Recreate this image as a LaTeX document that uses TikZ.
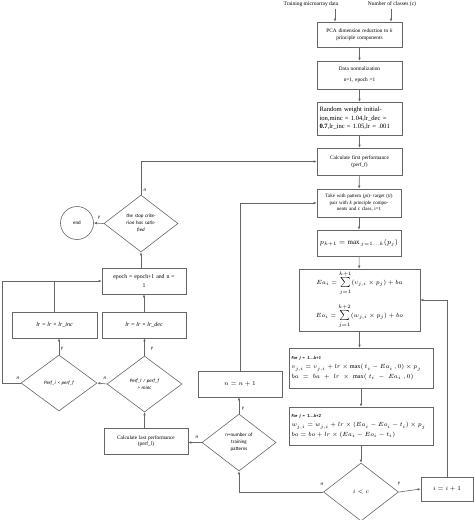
\documentclass[tikz,border=0pt]{standalone}
\usepackage{fontspec}
\setmainfont{Liberation Serif}
\newfontfamily\calib{Carlito}
\usetikzlibrary{shapes.geometric,arrows.meta}
\definecolor{lc}{HTML}{666666}
\begin{document}
\begin{tikzpicture}[x=1pt,y=-1pt,
  box/.style={draw=lc, line width=0.6pt, inner sep=1pt, align=center, fill=white,
    font=\fontsize{5.3}{6.6}\selectfont},
  dia/.style={draw=lc, line width=0.6pt, diamond, inner sep=0pt, align=center,
    font=\calib\itshape\fontsize{5}{7}\selectfont},
  arr/.style={draw=lc, line width=0.6pt, -{Latex[length=3pt,width=2.6pt]}},
  ln/.style={draw=lc, line width=0.6pt},
  lab/.style={font=\calib\itshape\fontsize{5}{6}\selectfont, inner sep=0.5pt},
  toptxt/.style={font=\fontsize{5.5}{6.5}\selectfont, inner sep=0pt}
]
\useasboundingbox (0,0) rectangle (474,520);

% top inputs
\node[toptxt] (train) at (311,4) {Training microarray data};
\node[toptxt] (ncls) at (392,4) {Number of classes (\textit{c})};
\coordinate (t1) at (335,9);
\coordinate (t2) at (391,9);

% right column
\node[box, minimum width=85, minimum height=25, text width=80] (pca) at (359.5,34.5)
  {PCA dimension reduction to \textit{k}\\principle components};
\node[box, minimum width=85, minimum height=28, text width=80] (norm) at (359.5,75)
  {Data normalization\\[4pt]n=1, epoch =1};
\node[box, minimum width=85, minimum height=33, text width=80, align=left,
  font=\fontsize{6.6}{8.3}\selectfont] (rand) at (359.5,118.5)
  {Random weight initial-\\ion,minc = 1.04,lr\_dec =\\\textbf{0.7},lr\_inc = 1.05,lr = .001};
\node[box, minimum width=85, minimum height=27, text width=80] (first) at (359.5,161.5)
  {Calculate first performance\\(perf\_f)};
\node[box, minimum width=84, minimum height=28, text width=80,
  font=\fontsize{5}{6.6}\selectfont] (take) at (359,203)
  {Take with pattern (\textit{pi})- target (\textit{ti})\\pair with \textit{k} principle compo-\\nents and c class, i=1};
\node[box, minimum width=84, minimum height=26, font=\fontsize{7}{8}\selectfont] (pmax) at (359,243)
  {$p_{k+1}=\mathrm{max}_{\,j=1\ldots k}(p_j)$};
\node[box, minimum width=121, minimum height=62, font=\fontsize{6.5}{7}\selectfont] (sums) at (359.5,300)
  {$Ea_i=\sum\limits_{j=1}^{k+1}(v_{j,i}\times p_j)+ba$\\[8pt]
   $Eo_i=\sum\limits_{j=1}^{k+2}(w_{j,i}\times p_j)+bo$};
\node[box, minimum width=144, minimum height=40, text width=139, align=left,
  font=\fontsize{6.2}{9.5}\selectfont] (vupd) at (361,368)
  {{\calib\bfseries\itshape\fontsize{4.5}{5}\selectfont For j = 1....k+1}\\
   $v_{j,i}=v_{j,i}+lr\times\mathrm{max}(\,t_i-Ea_i\,,0)\times p_j$\\
   $ba\;=\;ba\;+\;lr\;\times\;\mathrm{max}(\;t_i\;-\;Ea_i\;,0)$};
\node[box, minimum width=144, minimum height=38, text width=139, align=left,
  font=\fontsize{6.2}{9.5}\selectfont] (wupd) at (361,426)
  {{\calib\bfseries\itshape\fontsize{4.5}{5}\selectfont For j = 1....k+2}\\
   $w_{j,i}=w_{j,i}+lr\times(Ea_i-Eo_i-t_i)\times p_j$\\
   $bo=bo+lr\times(Ea_i-Eo_i-t_i)$};
\node[dia, minimum width=75, minimum height=58, font=\fontsize{6}{7}\selectfont] (ic) at (361,492) {$i<c$};
\node[box, minimum width=52, minimum height=24, font=\fontsize{6.5}{7}\selectfont] (inc) at (447,489) {$i=i+1$};

% middle column
\node[dia, minimum width=74, minimum height=57, text width=34] (ndiam) at (239,442.5)
  {\upshape n=number of\\training\\patterns};
\node[box, minimum width=84, minimum height=26, font=\fontsize{6.5}{7}\selectfont] (nplus) at (240,384) {$n=n+1$};
\node[box, minimum width=84, minimum height=26, text width=80] (last) at (146,441)
  {Calculate last performance\\(perf\_l)};

% left part
\node[dia, minimum width=75, minimum height=56, text width=32] (ratio) at (144.5,384)
  {Perf\_l / perf\_f\\\textgreater{} minc};
\node[dia, minimum width=76, minimum height=56, text width=40] (pdiam) at (59,383)
  {Perf\_i \textless{} perf\_f};
\node[box, minimum width=84, minimum height=26, font=\fontsize{6}{7}\selectfont] (lrdec) at (144,325)
  {\textit{lr = lr × lr\_dec}};
\node[box, minimum width=85, minimum height=26, font=\fontsize{6}{7}\selectfont] (lrinc) at (54.5,325)
  {\textit{lr = lr × lr\_inc}};
\node[box, minimum width=84, minimum height=26, text width=80, font=\fontsize{5.8}{9}\selectfont] (epoch) at (144,281)
  {epoch = epoch+1 and n =\\1};
\node[dia, minimum width=74, minimum height=57, text width=34] (stop) at (141,223.5)
  {the stop crite-\\rion has satis-\\fied};
\node[draw=lc, line width=0.6pt, circle, minimum size=33, inner sep=0pt,
  font=\calib\fontsize{5}{6}\selectfont] (end) at (77,223) {end};

% connectors
\draw[arr] (t1) -- (t1 |- pca.north);
\draw[arr] (t2) -- (t2 |- pca.north);
\draw[arr] (pca) -- (norm);
\draw[arr] (norm) -- (rand);
\draw[arr] (rand) -- (first);
\draw[arr] (first) -- (take);
\draw[arr] (take) -- (pmax);
\draw[arr] (pmax) -- (sums);
\draw[arr] (sums.south) -- (sums.south |- vupd.north);
\draw[arr] (vupd.south) -- (vupd.south |- wupd.north);
\draw[arr] (wupd.south) -- (wupd.south |- ic.north);
\draw[arr] (ic.east) -- (inc.west);
\draw[arr] (inc.north) |- (sums.east);
\draw[arr] (ic.west) -| (ndiam.south);
\draw[arr] (ndiam.north) -- (ndiam.north |- nplus.south);
\draw[arr] (nplus.north) |- (take.west);
\draw[arr] (ndiam.west) -- (ndiam.west -| last.east);
\draw[arr] (last.north -| ratio.south) -- (ratio.south);
\draw[arr] (ratio.north) -- (ratio.north |- lrdec.south);
\draw[arr] (ratio.west) -- (pdiam.east);
\draw[arr] (pdiam.north) -- (pdiam.north |- lrinc.south);
\coordinate (lft) at (2,383);
\draw[arr] (pdiam.west) -- (lft) |- (epoch.west);
\draw[ln] (lrinc.north) -- (lrinc.north |- epoch.west);
\draw[arr] (lrdec.north) -- (epoch.south);
\draw[arr] (epoch.north -| stop.south) -- (stop.south);
\draw[arr] (stop.west) -- (end.east);
\draw[arr] (stop.north) |- (first.west);

% labels
\node[lab] at (145,190) {n};
\node[lab] at (99,218) {y};
\node[lab] at (152,349) {y};
\node[lab] at (105,378) {n};
\node[lab] at (62,349) {y};
\node[lab] at (18,378) {n};
\node[lab] at (243,409) {y};
\node[lab] at (197,437) {n};
\node[lab] at (322,484) {n};
\node[lab] at (399,484) {y};
\end{tikzpicture}
\end{document}
